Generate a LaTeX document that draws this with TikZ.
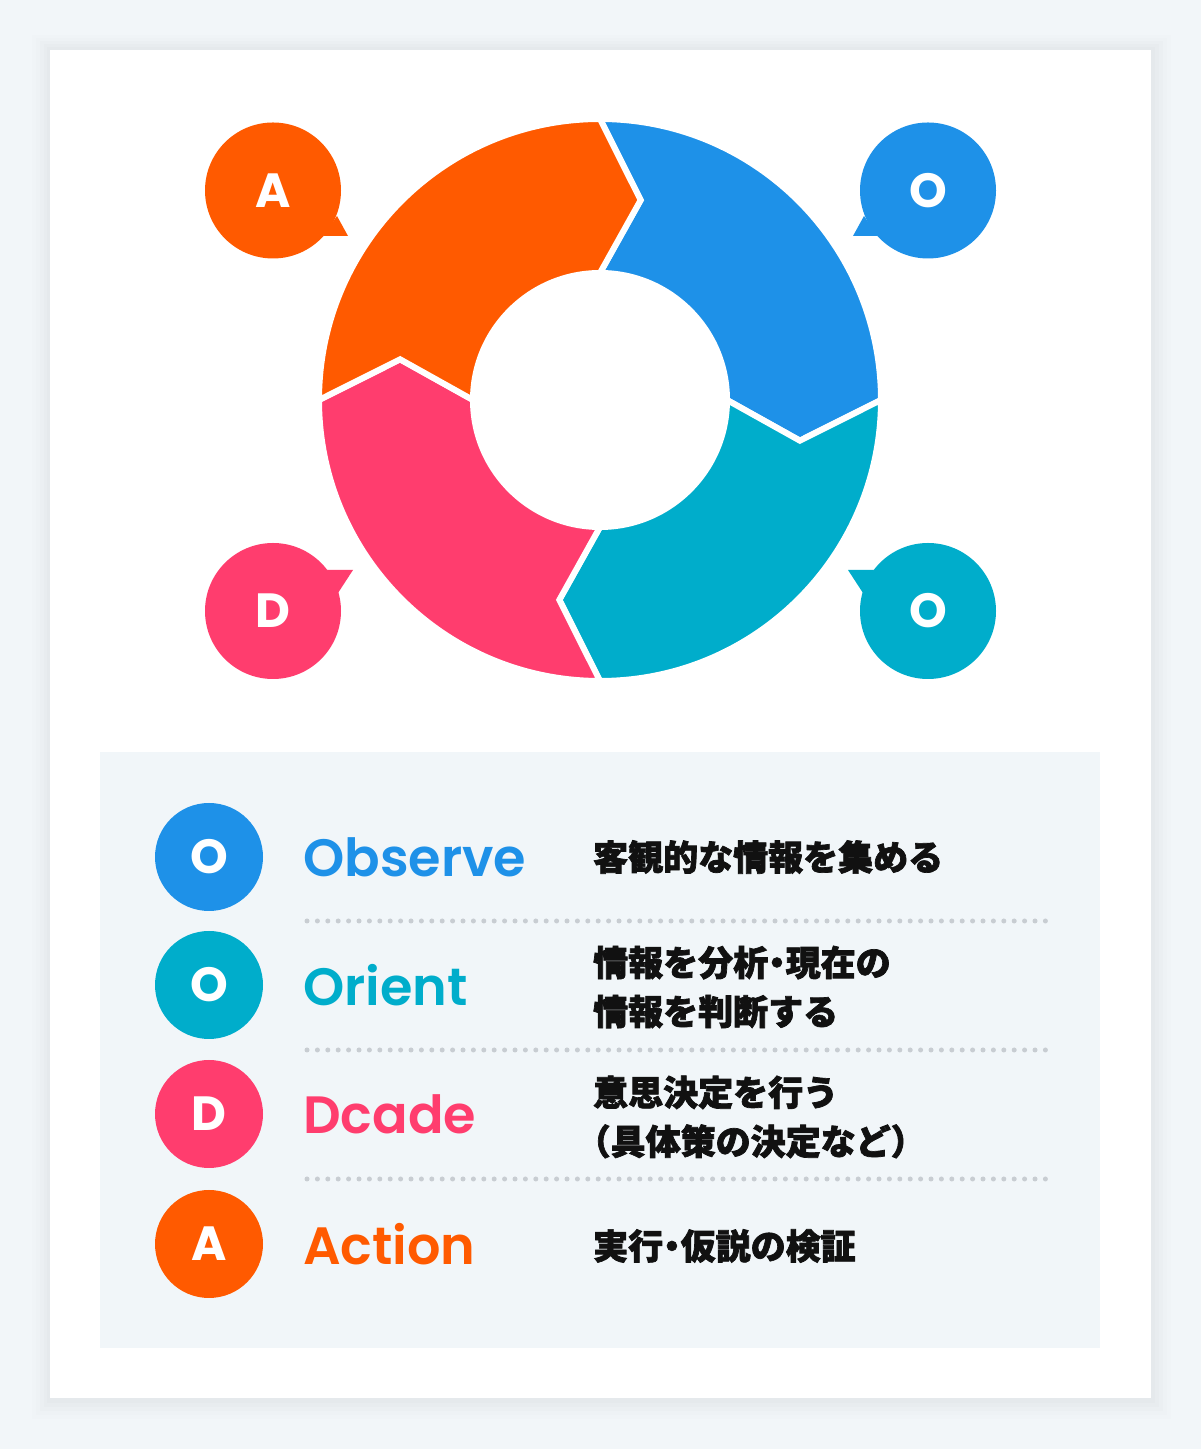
\documentclass[tikz,border=0pt]{standalone}
\usepackage{fontspec}
\setmainfont{Poppins}[BoldFont={Poppins SemiBold}]
\newfontfamily\badgefont{Poppins Bold}
\newfontfamily\jp{Noto Sans CJK JP}[BoldFeatures={FakeBold=2}]
\usetikzlibrary{calc}

\definecolor{obsblue}{HTML}{1E91E8}
\definecolor{oriteal}{HTML}{00ADCB}
\definecolor{decpink}{HTML}{FF3D6E}
\definecolor{actorange}{HTML}{FF5A00}
\definecolor{pagebg}{HTML}{F2F6F9}
\definecolor{panelbg}{HTML}{F1F6F9}
\definecolor{dotgray}{HTML}{C8CDD2}
\definecolor{inkblack}{HTML}{111111}

% narrow middle dot and brackets, as printed
\newcommand\jdot{\makebox[0.5em]{・}}
\newcommand\jopen{\makebox[0.5em][r]{（}}
\newcommand\jclose{\makebox[0.5em][l]{）}}

\begin{document}
\begin{tikzpicture}[
    x=1pt, y=1pt,
	seg/.style={
	  draw=white,
	  line width=6pt,
	  line join=miter
	},
	bubble/.style={
	  circle,
	  minimum size=136pt,
	  inner sep=0pt,
	  text=white,
	  font=\badgefont\fontsize{48}{50}\selectfont
	},
	badge/.style={
	  circle,
	  minimum size=108pt,
	  inner sep=0pt,
	  text=white,
	  font=\badgefont\fontsize{48}{50}\selectfont
	},
	word/.style={
	  anchor=west,
	  inner sep=0pt,
	  font=\fontsize{52.5}{58}\selectfont\bfseries
	},
	note/.style={
	  anchor=west,
	  inner sep=0pt,
	  align=left,
	  text=inkblack,
	  font=\jp\fontsize{35}{49}\selectfont\bfseries
	},
 	sep/.style={draw=dotgray, line width=5pt, line cap=round, dash pattern=on 0pt off 10.4pt}
	]
	\useasboundingbox (0,0) rectangle (1201,1449);
	\fill[pagebg] (0,0) rectangle (1201,1449);
	% card and its soft shadow
	\fill[black, opacity=0.008] (32,30) rectangle (1171,1414);
	\fill[black, opacity=0.008] (36,34) rectangle (1167,1411);
	\fill[black, opacity=0.01] (40,38) rectangle (1163,1408);
	\fill[black, opacity=0.01] (44,42) rectangle (1159,1405);
	\fill[black, opacity=0.012] (47,46) rectangle (1155,1402);
	\fill[white] (50,51) rectangle (1151,1399);
	\fill[panelbg] (100,101) rectangle (1100,697);

	% ring
	\coordinate (c) at (600,1049);
	\begin{scope}[shift={(c)}]
	\path[seg, fill=obsblue] (90:281pt) arc[start angle=90, end angle=0, radius=281pt]
	  -- (-11.5:204pt) -- (0:127pt) arc[start angle=0, end angle=90, radius=127pt]
	  -- (78.5:204pt) -- cycle;
	\path[seg, fill=oriteal] (0:281pt) arc[start angle=0, end angle=-90, radius=281pt]
	  -- (-101.5:204pt) -- (-90:127pt) arc[start angle=-90, end angle=0, radius=127pt]
	  -- (-11.5:204pt) -- cycle;
	\path[seg, fill=decpink] (-90:281pt) arc[start angle=-90, end angle=-180, radius=281pt]
	  -- (-191.5:204pt) -- (-180:127pt) arc[start angle=-180, end angle=-90, radius=127pt]
	  -- (-101.5:204pt) -- cycle;
	\path[seg, fill=actorange] (180:281pt) arc[start angle=180, end angle=90, radius=281pt]
	  -- (78.5:204pt) -- (90:127pt) arc[start angle=90, end angle=180, radius=127pt]
	  -- (168.5:204pt) -- cycle;
	\end{scope}

	% speech bubbles
	\fill[actorange] ($(273,1258.5)+(75,-45.5)$) -- ($(273,1258.5)+(50,-45.5)$) -- ($(273,1258.5)+(64,-25.5)$) -- cycle;
	\node at (273,1258.5) [bubble, fill=actorange] (ba) {A};
	\fill[obsblue] ($(928,1258.5)+(-75,-45.5)$) -- ($(928,1258.5)+(-50,-45.5)$) -- ($(928,1258.5)+(-64,-25.5)$) -- cycle;
	\node at (928,1258.5) [bubble, fill=obsblue] (bo) {O};
	\fill[decpink] ($(273,838)+(80,41)$) -- ($(273,838)+(54,41)$) -- ($(273,838)+(65,18)$) -- cycle;
	\node at (273,838) [bubble, fill=decpink] (bd) {D};
	\fill[oriteal] ($(928,838)+(-80,41)$) -- ($(928,838)+(-54,41)$) -- ($(928,838)+(-65,18)$) -- cycle;
	\node at (928,838) [bubble, fill=oriteal] (bt) {O};

	% legend
	\node at (209,592) [badge, fill=obsblue] (lo) {O};
	\node at (303,592) [word, text=obsblue] (wo) {Observe};
	\node at (593,592) [note] (no) {客観的な情報を集める};
	\draw[sep] (307,528) -- (1053,528);
	\node at (209,464) [badge, fill=oriteal] (lt) {O};
	\node at (303,464) [word, text=oriteal] (wt) {Orient};
	\node at (593,462) [note] (nt) {情報を分析\jdot 現在の\\情報を判断する};
	\draw[sep] (307,399) -- (1053,399);
	\node at (209,335) [badge, fill=decpink] (ld) {D};
	\node at (303,335) [word, text=decpink] (wd) {Dcade};
	\node at (593,332) [note] (nd) {意思決定を行う\\\jopen 具体策の決定など\jclose};
	\draw[sep] (307,270) -- (1053,270);
	\node at (209,205) [badge, fill=actorange] (la) {A};
	\node at (303,205) [word, text=actorange] (wa) {Action};
	\node at (593,203) [note] (na) {実行\jdot 仮説の検証};
  \end{tikzpicture}
\end{document}
